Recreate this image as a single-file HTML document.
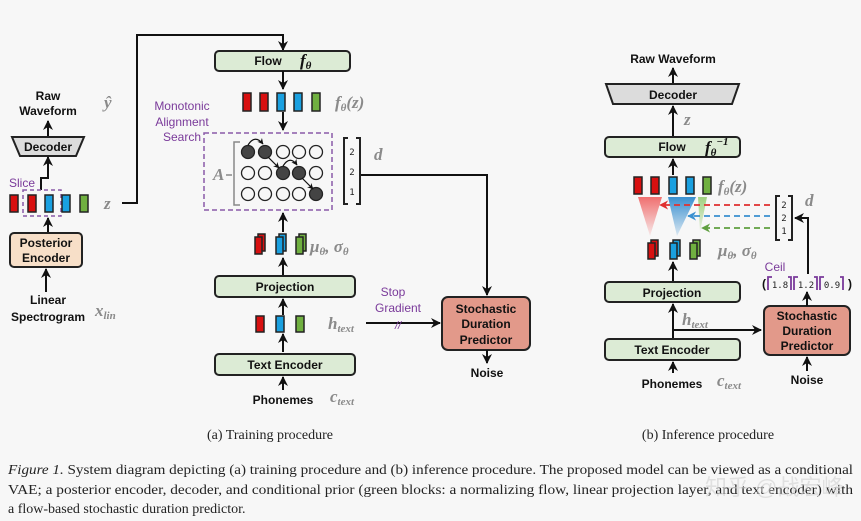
<!DOCTYPE html>
<html><head><meta charset="utf-8"><style>
body{margin:0;background:#f7f7f7;}
svg{display:block;}
.t{font-family:"Liberation Sans",sans-serif;font-weight:bold;font-size:12px;fill:#111;text-anchor:middle;}
.m{font-family:"Liberation Serif",serif;font-style:italic;font-weight:bold;font-size:17px;fill:#8a8a8a;}
.p{font-family:"Liberation Sans",sans-serif;font-size:12px;fill:#7a3a9a;text-anchor:middle;}
.box{fill:#dcebd5;stroke:#222;stroke-width:2;}
.ln{stroke:#111;stroke-width:2;fill:none;}
.cap{font-family:"Liberation Serif",serif;font-size:14px;fill:#222;}
.s{font-family:"DejaVu Sans Mono",monospace;font-size:9px;fill:#222;text-anchor:middle;}
</style></head><body>
<svg width="861" height="521" viewBox="0 0 861 521" xmlns="http://www.w3.org/2000/svg">
<defs>
<marker id="a" viewBox="0 0 10 10" refX="9" refY="5" markerWidth="5" markerHeight="5" orient="auto"><path d="M0,0 L10,5 L0,10 L3,5 z" fill="#111"/></marker>
<marker id="ar" viewBox="0 0 10 10" refX="9" refY="5" markerWidth="5" markerHeight="5" orient="auto"><path d="M0,0 L10,5 L0,10 L3,5 z" fill="#e03030"/></marker>
<marker id="ab" viewBox="0 0 10 10" refX="9" refY="5" markerWidth="5" markerHeight="5" orient="auto"><path d="M0,0 L10,5 L0,10 L3,5 z" fill="#3a90d0"/></marker>
<marker id="ag" viewBox="0 0 10 10" refX="9" refY="5" markerWidth="5" markerHeight="5" orient="auto"><path d="M0,0 L10,5 L0,10 L3,5 z" fill="#60a040"/></marker>
<linearGradient id="gr" x1="0" y1="0" x2="0" y2="1"><stop offset="0" stop-color="#f07070"/><stop offset="1" stop-color="#f07070" stop-opacity="0.1"/></linearGradient>
<linearGradient id="gb" x1="0" y1="0" x2="0" y2="1"><stop offset="0" stop-color="#3a90d0"/><stop offset="1" stop-color="#3a90d0" stop-opacity="0.15"/></linearGradient>
<linearGradient id="gg" x1="0" y1="0" x2="0" y2="1"><stop offset="0" stop-color="#a0d080"/><stop offset="1" stop-color="#a0d080" stop-opacity="0.15"/></linearGradient>
</defs>

<!-- ===== Training left ===== -->
<text class="t" x="48" y="100">Raw</text>
<text class="t" x="48" y="115">Waveform</text>
<text class="m" x="104" y="108">ŷ</text>
<path class="ln" d="M48,137 V121" marker-end="url(#a)"/>
<path d="M12,137 H84 L76,156 H20 Z" fill="#dcdcdc" stroke="#222" stroke-width="2"/>
<text class="t" x="48" y="151">Decoder</text>
<path class="ln" d="M41,190 V178 H48 V157" marker-end="url(#a)"/>
<text class="p" x="22" y="187">Slice</text>
<rect x="23" y="190" width="38" height="26" fill="none" stroke="#8a5aa8" stroke-width="1.5" stroke-dasharray="4,3"/>
<g stroke="#222" stroke-width="1.5">
<rect x="10" y="195" width="8" height="17" fill="#d81010"/>
<rect x="28" y="195" width="8" height="17" fill="#d81010"/>
<rect x="45" y="195" width="8" height="17" fill="#1aa0e0"/>
<rect x="62" y="195" width="8" height="17" fill="#1aa0e0"/>
<rect x="80" y="195" width="8" height="17" fill="#70b040"/>
</g>
<text class="m" x="104" y="209">z</text>
<path class="ln" d="M122,203 H137 V35 H283 V50" marker-end="url(#a)"/>
<path class="ln" d="M48,233 V218" marker-end="url(#a)"/>
<rect x="10" y="233" width="72" height="34" rx="4" fill="#f7dfc8" stroke="#222" stroke-width="2"/>
<text class="t" x="46" y="247">Posterior</text>
<text class="t" x="46" y="262">Encoder</text>
<path class="ln" d="M46,292 V269" marker-end="url(#a)"/>
<text class="t" x="48" y="304">Linear</text>
<text class="t" x="48" y="321">Spectrogram</text>
<text class="m" x="95" y="316">x<tspan font-size="11" dy="3">lin</tspan></text>

<!-- ===== Training middle ===== -->
<rect class="box" x="215" y="51" width="135" height="20" rx="4"/>
<text class="t" x="268" y="65">Flow</text>
<text class="m" x="300" y="66" style="fill:#111">f<tspan font-size="11" dy="3">θ</tspan></text>
<path class="ln" d="M283,71 V89" marker-end="url(#a)"/>
<g stroke="#222" stroke-width="1.5">
<rect x="243" y="93" width="8" height="18" fill="#d81010"/>
<rect x="260" y="93" width="8" height="18" fill="#d81010"/>
<rect x="277" y="93" width="8" height="18" fill="#1aa0e0"/>
<rect x="294" y="93" width="8" height="18" fill="#1aa0e0"/>
<rect x="312" y="93" width="8" height="18" fill="#70b040"/>
</g>
<text class="m" x="335" y="108">f<tspan font-size="11" dy="3">θ</tspan><tspan dy="-3">(z)</tspan></text>
<path class="ln" d="M283,112 V130" marker-end="url(#a)"/>
<text class="p" x="182" y="110">Monotonic</text>
<text class="p" x="182" y="126">Alignment</text>
<text class="p" x="182" y="141">Search</text>
<rect x="204" y="133" width="128" height="77" fill="none" stroke="#8a5aa8" stroke-width="1.5" stroke-dasharray="5,3"/>
<text class="m" x="213" y="180">A</text>
<path d="M226,175 H232 M240,142 H234 V205 H240" stroke="#888" stroke-width="1.5" fill="none"/>
<g stroke="#222" stroke-width="1.3" fill="none">
<circle cx="248" cy="152" r="6.5" fill="#444"/><circle cx="265" cy="152" r="6.5" fill="#444"/><circle cx="283" cy="152" r="6.5"/><circle cx="299" cy="152" r="6.5"/><circle cx="316" cy="152" r="6.5"/>
<circle cx="248" cy="173" r="6.5"/><circle cx="265" cy="173" r="6.5"/><circle cx="283" cy="173" r="6.5" fill="#444"/><circle cx="299" cy="173" r="6.5" fill="#444"/><circle cx="316" cy="173" r="6.5"/>
<circle cx="248" cy="194" r="6.5"/><circle cx="265" cy="194" r="6.5"/><circle cx="283" cy="194" r="6.5"/><circle cx="299" cy="194" r="6.5"/><circle cx="316" cy="194" r="6.5" fill="#444"/>
</g>
<g stroke="#111" stroke-width="1.2" fill="none">
<path d="M248,145 Q255,134 263,144" marker-end="url(#a)"/>
<path d="M268,157 L279,168" marker-end="url(#a)"/>
<path d="M283,166 Q290,155 297,165" marker-end="url(#a)"/>
<path d="M302,178 L313,189" marker-end="url(#a)"/>
</g>
<path d="M348,138 H344 V204 H348 M356,138 H360 V204 H356" stroke="#222" stroke-width="2" fill="none"/>
<text class="s" x="352" y="155">2</text><text class="s" x="352" y="175">2</text><text class="s" x="352" y="195">1</text>
<text class="m" x="374" y="160">d</text>
<path class="ln" d="M361,175 H487 V295" marker-end="url(#a)"/>
<path class="ln" d="M283,232 V213" marker-end="url(#a)"/>
<g stroke="#222" stroke-width="1.5">
<rect x="258" y="234" width="7" height="17" fill="#d81010"/><rect x="255" y="237" width="7" height="17" fill="#d81010"/>
<rect x="279" y="234" width="7" height="17" fill="#1aa0e0"/><rect x="276" y="237" width="7" height="17" fill="#1aa0e0"/>
<rect x="299" y="234" width="7" height="17" fill="#70b040"/><rect x="296" y="237" width="7" height="17" fill="#70b040"/>
</g>
<text class="m" x="310" y="252">μ<tspan font-size="11" dy="3">θ</tspan><tspan dy="-3">, σ</tspan><tspan font-size="11" dy="3">θ</tspan></text>
<path class="ln" d="M283,275 V258" marker-end="url(#a)"/>
<rect class="box" x="215" y="276" width="140" height="21" rx="4"/>
<text class="t" x="285" y="291">Projection</text>
<path class="ln" d="M283,315 V299" marker-end="url(#a)"/>
<g stroke="#222" stroke-width="1.5">
<rect x="256" y="316" width="8" height="16" fill="#d81010"/>
<rect x="276" y="316" width="8" height="16" fill="#1aa0e0"/>
<rect x="296" y="316" width="8" height="16" fill="#70b040"/>
</g>
<text class="m" x="328" y="329">h<tspan font-size="11" dy="3">text</tspan></text>
<path class="ln" d="M366,323 H440" marker-end="url(#a)"/>
<text class="p" x="393" y="296">Stop</text>
<text class="p" x="398" y="312">Gradient</text>
<text x="395" y="329" font-family="Liberation Sans" font-size="11" fill="#7a3a9a" font-style="italic">//</text>
<path class="ln" d="M283,352 V334" marker-end="url(#a)"/>
<rect class="box" x="215" y="354" width="140" height="21" rx="4"/>
<text class="t" x="285" y="369">Text Encoder</text>
<path class="ln" d="M283,390 V377" marker-end="url(#a)"/>
<text class="t" x="283" y="404">Phonemes</text>
<text class="m" x="330" y="402">c<tspan font-size="11" dy="3">text</tspan></text>
<rect x="442" y="297" width="88" height="53" rx="6" fill="#e2998a" stroke="#222" stroke-width="2"/>
<text class="t" x="486" y="313">Stochastic</text>
<text class="t" x="486" y="328">Duration</text>
<text class="t" x="486" y="344">Predictor</text>
<path class="ln" d="M487,350 V363" marker-end="url(#a)"/>
<text class="t" x="487" y="377">Noise</text>

<!-- ===== Inference ===== -->
<text class="t" x="673" y="63">Raw Waveform</text>
<path class="ln" d="M673,84 V68" marker-end="url(#a)"/>
<path d="M606,84 H739 L732,104 H613 Z" fill="#dcdcdc" stroke="#222" stroke-width="2"/>
<text class="t" x="673" y="99">Decoder</text>
<path class="ln" d="M673,137 V106" marker-end="url(#a)"/>
<text class="m" x="684" y="125">z</text>
<rect class="box" x="605" y="137" width="135" height="20" rx="4"/>
<text class="t" x="672" y="151">Flow</text>
<text class="m" x="705" y="153" style="fill:#111">f<tspan font-size="11" dy="3">θ</tspan><tspan font-size="11" dy="-11">−1</tspan></text>
<path class="ln" d="M673,175 V159" marker-end="url(#a)"/>
<g stroke="#222" stroke-width="1.5">
<rect x="634" y="177" width="8" height="17" fill="#d81010"/>
<rect x="651" y="177" width="8" height="17" fill="#d81010"/>
<rect x="669" y="177" width="8" height="17" fill="#1aa0e0"/>
<rect x="686" y="177" width="8" height="17" fill="#1aa0e0"/>
<rect x="703" y="177" width="8" height="17" fill="#70b040"/>
</g>
<text class="m" x="718" y="192">f<tspan font-size="11" dy="3">θ</tspan><tspan dy="-3">(z)</tspan></text>
<polygon points="638,197 662,197 650,236" fill="url(#gr)"/>
<polygon points="668,197 696,197 677,236" fill="url(#gb)"/>
<polygon points="698,197 707,197 700,232" fill="url(#gg)"/>
<path d="M770,205 H660" stroke="#e03030" stroke-width="1.8" stroke-dasharray="6,4" marker-end="url(#ar)"/>
<path d="M770,216 H688" stroke="#3a90d0" stroke-width="1.8" stroke-dasharray="6,4" marker-end="url(#ab)"/>
<path d="M770,228 H702" stroke="#60a040" stroke-width="1.8" stroke-dasharray="6,4" marker-end="url(#ag)"/>
<path d="M780,196 H776 V240 H780 M788,196 H792 V240 H788" stroke="#222" stroke-width="2" fill="none"/>
<text class="s" x="784" y="208">2</text><text class="s" x="784" y="221">2</text><text class="s" x="784" y="234">1</text>
<text class="m" x="805" y="206">d</text>
<g stroke="#222" stroke-width="1.5">
<rect x="651" y="240" width="7" height="16" fill="#d81010"/><rect x="648" y="243" width="7" height="16" fill="#d81010"/>
<rect x="673" y="240" width="7" height="16" fill="#1aa0e0"/><rect x="670" y="243" width="7" height="16" fill="#1aa0e0"/>
<rect x="693" y="240" width="7" height="16" fill="#70b040"/><rect x="690" y="243" width="7" height="16" fill="#70b040"/>
</g>
<text class="m" x="718" y="256">μ<tspan font-size="11" dy="3">θ</tspan><tspan dy="-3">, σ</tspan><tspan font-size="11" dy="3">θ</tspan></text>
<path class="ln" d="M673,282 V262" marker-end="url(#a)"/>
<rect class="box" x="605" y="282" width="135" height="20" rx="4"/>
<text class="t" x="672" y="297">Projection</text>
<path class="ln" d="M673,339 V304" marker-end="url(#a)"/>
<text class="m" x="682" y="325">h<tspan font-size="11" dy="3">text</tspan></text>
<path class="ln" d="M673,330 H761" marker-end="url(#a)"/>
<rect class="box" x="605" y="339" width="135" height="21" rx="4"/>
<text class="t" x="672" y="354">Text Encoder</text>
<path class="ln" d="M673,373 V362" marker-end="url(#a)"/>
<text class="t" x="672" y="388">Phonemes</text>
<text class="m" x="717" y="386">c<tspan font-size="11" dy="3">text</tspan></text>
<rect x="764" y="306" width="86" height="49" rx="6" fill="#e2998a" stroke="#222" stroke-width="2"/>
<text class="t" x="807" y="320">Stochastic</text>
<text class="t" x="807" y="335">Duration</text>
<text class="t" x="807" y="350">Predictor</text>
<path class="ln" d="M807,371 V357" marker-end="url(#a)"/>
<text class="t" x="807" y="384">Noise</text>
<path class="ln" d="M807,306 V292" marker-end="url(#a)"/>
<text class="p" x="775" y="271">Ceil</text>
<text x="762" y="288" font-family="Liberation Sans" font-weight="bold" font-size="12" fill="#111">(</text>
<text x="848" y="288" font-family="Liberation Sans" font-weight="bold" font-size="12" fill="#111">)</text>
<g stroke="#7a3a9a" stroke-width="1.8" fill="none">
<path d="M768,290 V277 H772 M788,277 H791 V290"/>
<path d="M794,290 V277 H798 M814,277 H817 V290"/>
<path d="M820,290 V277 H824 M840,277 H843 V290"/>
</g>
<text class="s" x="780" y="288">1.8</text><text class="s" x="806" y="288">1.2</text><text class="s" x="832" y="288">0.9</text>
<path class="ln" d="M808,274 V218 H795" marker-end="url(#a)"/>

<!-- captions -->
<text class="cap" x="270" y="439" text-anchor="middle">(a) Training procedure</text>
<text class="cap" x="708" y="439" text-anchor="middle">(b) Inference procedure</text>
<text class="cap" x="8" y="474" textLength="845" lengthAdjust="spacingAndGlyphs"><tspan font-style="italic">Figure 1.</tspan> System diagram depicting (a) training procedure and (b) inference procedure. The proposed model can be viewed as a conditional</text>
<text class="cap" x="8" y="494" textLength="845" lengthAdjust="spacingAndGlyphs">VAE; a posterior encoder, decoder, and conditional prior (green blocks: a normalizing flow, linear projection layer, and text encoder) with</text>
<text class="cap" x="8" y="513">a flow-based stochastic duration predictor.</text>
<text x="705" y="495" font-family="Liberation Sans,Noto Sans CJK SC,sans-serif" font-size="22" fill="#d0d0d0" fill-opacity="0.6">知乎 @战宏峰</text>
</svg>
</body></html>
